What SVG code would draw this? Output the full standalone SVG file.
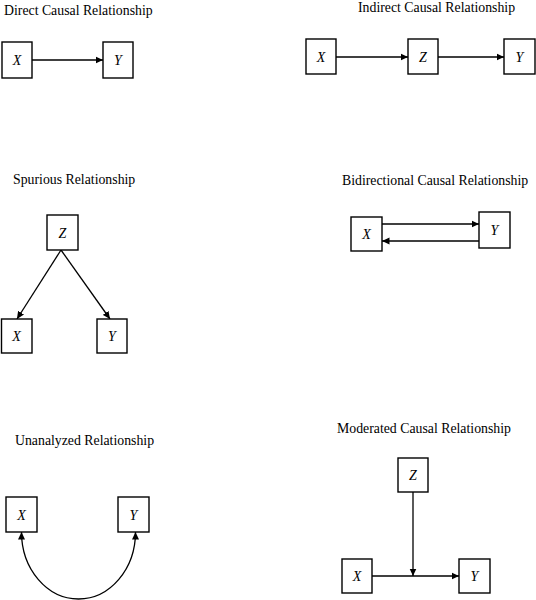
<svg xmlns="http://www.w3.org/2000/svg" width="536" height="600" viewBox="0 0 536 600">
<defs>
<marker id="ah" markerUnits="userSpaceOnUse" markerWidth="8" markerHeight="8" viewBox="0 0 8 8" refX="7.5" refY="4" orient="auto-start-reverse">
<path d="M0,0.5 L7.5,4 L0,7.5 Z" fill="#000"/>
</marker>
</defs>
<style>
.bg{fill:#fff}
.box{fill:#fff;stroke:#000;stroke-width:1.4}
.title{font-family:"Liberation Serif","Times New Roman",serif;font-size:13.8px;fill:#000}
.lbl{font-family:"Liberation Serif","Times New Roman",serif;font-size:14px;font-style:italic;fill:#000;text-anchor:middle}
.edge{fill:none;stroke:#000;stroke-width:1.3;marker-end:url(#ah)}
</style>
<rect class="bg" x="0" y="0" width="536" height="600"/>

<g id="titles">
<text class="title" x="4" y="15">Direct Causal Relationship</text>
<text class="title" x="358" y="11.5">Indirect Causal Relationship</text>
<text class="title" x="13" y="184">Spurious Relationship</text>
<text class="title" x="342" y="185">Bidirectional Causal Relationship</text>
<text class="title" x="15" y="445">Unanalyzed Relationship</text>
<text class="title" x="337" y="433">Moderated Causal Relationship</text>
</g>

<g id="connectors">
<path class="edge" d="M32,60 H103"/>
<path class="edge" d="M336,57 H408"/>
<path class="edge" d="M438,57 H504"/>
<path class="edge" d="M61,250 L17,319"/>
<path class="edge" d="M61,250 L110,319"/>
<path class="edge" d="M382,224 H479"/>
<path class="edge" d="M479,241 H382"/>
<path class="edge" d="M21.5,532 A57,67 0 0 0 135.5,532" style="marker-start:url(#ah)"/>
<path class="edge" d="M372,576 H459"/>
<path class="edge" d="M413,492 V576"/>
</g>

<g id="direct-x"><rect class="box" x="2" y="42" width="30" height="36"/><text class="lbl" x="17" y="65">X</text></g>
<g id="direct-y"><rect class="box" x="103" y="42" width="30" height="36"/><text class="lbl" x="118" y="65">Y</text></g>

<g id="indirect-x"><rect class="box" x="306" y="39" width="30" height="35"/><text class="lbl" x="321" y="61.5">X</text></g>
<g id="indirect-z"><rect class="box" x="408" y="39" width="30" height="35"/><text class="lbl" x="423" y="61.5">Z</text></g>
<g id="indirect-y"><rect class="box" x="504" y="39" width="31" height="35"/><text class="lbl" x="519.5" y="61.5">Y</text></g>

<g id="spurious-z"><rect class="box" x="47" y="215" width="31" height="35"/><text class="lbl" x="62.5" y="237.5">Z</text></g>
<g id="spurious-x"><rect class="box" x="1.5" y="319" width="30.5" height="34"/><text class="lbl" x="16.5" y="341">X</text></g>
<g id="spurious-y"><rect class="box" x="97" y="319" width="30" height="34"/><text class="lbl" x="112" y="341">Y</text></g>

<g id="bidir-x"><rect class="box" x="351" y="217" width="31" height="34"/><text class="lbl" x="366.5" y="239">X</text></g>
<g id="bidir-y"><rect class="box" x="479" y="212" width="31" height="36"/><text class="lbl" x="494.5" y="235">Y</text></g>

<g id="unanalyzed-x"><rect class="box" x="6" y="497" width="31" height="35"/><text class="lbl" x="21.5" y="519.5">X</text></g>
<g id="unanalyzed-y"><rect class="box" x="118" y="497" width="31" height="35"/><text class="lbl" x="133.5" y="519.5">Y</text></g>

<g id="moderated-z"><rect class="box" x="398" y="458" width="30" height="34"/><text class="lbl" x="413" y="480">Z</text></g>
<g id="moderated-x"><rect class="box" x="342" y="559" width="30" height="34"/><text class="lbl" x="357" y="581">X</text></g>
<g id="moderated-y"><rect class="box" x="459" y="559" width="31" height="34"/><text class="lbl" x="474.5" y="581">Y</text></g>
</svg>
